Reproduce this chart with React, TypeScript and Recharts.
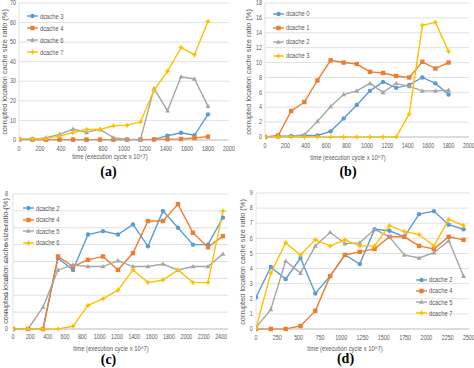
import React from 'react';
import { LineChart, Line, XAxis, YAxis, CartesianGrid } from 'recharts';

// x positions (execution cycle x 10^7)
const timeAB = [0, 129, 257, 386, 514, 643, 771, 900, 1029, 1157, 1286, 1414, 1543, 1671, 1800];
const timeC = [0, 173, 346, 519, 692, 865, 1038, 1211, 1384, 1557, 1730, 1903, 2076, 2249, 2422];
const timeD = [0, 174, 348, 522, 696, 870, 1044, 1218, 1392, 1566, 1740, 1914, 2088, 2262, 2436];

// (a)
const a_dcache3 = [0.2, 0.2, 0.2, 0.2, 0.2, 0.2, 0.2, 0.2, 0.2, 0.2, 0.3, 2.2, 3.7, 2.4, 13.1];
const a_dcache4 = [0.3, 0.3, 0.2, 0.2, 0.2, 0.2, 0.2, 0.2, 0.2, 0.2, 0.3, 0.4, 0.5, 1.0, 1.7];
const a_dcache6 = [0.3, 0.3, 1.2, 2.9, 5.6, 3.9, 5.4, 1.2, 0.3, 0.3, 26.3, 15, 32.3, 31.2, 17.3];
const a_dcache7 = [0.7, 0.7, 0.7, 2.0, 3.7, 5.4, 5.4, 7.3, 7.6, 9.2, 25.5, 35.1, 47.2, 43.6, 60.6];

// (b)
const b_dcache0 = [0, 0.1, 0.13, 0.2, 0.2, 0.76, 2.5, 4.3, 6.2, 7.4, 6.6, 7.0, 8.0, 7.2, 5.7];
const b_dcache1 = [0, 0.2, 3.5, 4.7, 7.6, 10.3, 10.0, 9.8, 8.75, 8.6, 8.2, 8.0, 10.1, 9.2, 10.0];
const b_dcache2 = [0, 0.05, 0.1, 0.3, 2.1, 4.1, 5.7, 6.2, 7.2, 6.0, 7.2, 6.8, 6.2, 6.2, 6.3];
const b_dcache3 = [0, 0, 0, 0, 0, 0, 0, 0, 0, 0, 0, 3.1, 15.0, 15.4, 11.5];

// (c)
const c_dcache2 = [0, 0, 0, 4.2, 3.5, 5.6, 5.8, 5.6, 6.2, 4.9, 7.0, 6.0, 5.0, 5.0, 6.6];
const c_dcache4 = [0, 0, 0, 4.3, 3.7, 4.1, 4.3, 3.5, 4.5, 6.4, 6.4, 7.4, 5.7, 4.85, 5.5];
const c_dcache5 = [0, 0, 1.3, 3.5, 3.8, 3.7, 3.7, 4.05, 3.7, 3.7, 3.85, 3.5, 3.7, 3.7, 4.45];
const c_dcache6 = [0, 0, 0, 0, 0.16, 1.4, 1.8, 2.3, 3.5, 2.75, 2.9, 3.5, 2.75, 2.75, 7.0];

// (d)
const d_dcache2 = [2.1, 4.1, 3.3, 4.7, 2.35, 3.5, 4.9, 4.3, 6.6, 6.5, 6.1, 7.6, 7.8, 6.9, 6.6];
const d_dcache4 = [0, 0, 0, 0.2, 1.2, 3.5, 4.9, 5.1, 5.3, 6.1, 6.1, 5.5, 5.3, 6.1, 5.9];
const d_dcache5 = [0.1, 1.3, 4.5, 3.7, 5.5, 6.4, 5.65, 5.7, 6.6, 6.1, 4.9, 4.7, 5.05, 5.85, 3.5];
const d_dcache7 = [0.05, 3.7, 5.7, 4.9, 5.9, 5.5, 5.9, 5.5, 5.5, 6.85, 6.45, 6.25, 5.5, 7.25, 6.85];

const ticksX2000 = [0, 200, 400, 600, 800, 1000, 1200, 1400, 1600, 1800, 2000];
const ticksX2400 = [0, 200, 400, 600, 800, 1000, 1200, 1400, 1600, 1800, 2000, 2200, 2400];
const ticksX2500 = [0, 250, 500, 750, 1000, 1250, 1500, 1750, 2000, 2250, 2500];
const ticksYA = [0, 10, 20, 30, 40, 50, 60, 70];
const ticksYB = [0, 2, 4, 6, 8, 10, 12, 14, 16, 18];
const ticksYC = [0, 1, 2, 3, 4, 5, 6, 7, 8];
const ticksYD = [0, 1, 2, 3, 4, 5, 6, 7, 8, 9];

const BLUE = '#5B9BD5';
const ORANGE = '#ED7D31';
const GRAY = '#A5A5A5';
const YELLOW = '#FFC000';
const FONT = '"Liberation Sans", Arial, sans-serif';
const SQUISH = 0.85;

type Shape = 'circle' | 'square' | 'triangle' | 'star';

const Marker = ({ shape, color, cx, cy }: { shape: Shape; color: string; cx: number; cy: number }) => {
  if (shape === 'circle') return <circle cx={cx} cy={cy} r={2.2} fill={color} />;
  if (shape === 'square') return <rect x={cx - 2.2} y={cy - 2.2} width={4.4} height={4.4} fill={color} />;
  if (shape === 'triangle')
    return <path d={`M${cx},${cy - 2.6}L${cx + 2.4},${cy + 1.8}L${cx - 2.4},${cy + 1.8}Z`} fill={color} />;
  return (
    <path
      d={`M${cx},${cy - 3}L${cx + 1},${cy - 1}L${cx + 3},${cy}L${cx + 1},${cy + 1}L${cx},${cy + 3}L${cx - 1},${cy + 1}L${cx - 3},${cy}L${cx - 1},${cy - 1}Z`}
      fill={color}
    />
  );
};

interface Series {
  key: string;
  name: string;
  values: number[];
  color: string;
  shape: Shape;
}

interface PanelProps {
  left: number;
  top: number;
  letter: string;
  times: number[];
  series: Series[];
  xDomain: [number, number];
  xTicks: number[];
  yDomain: [number, number];
  yTicks: number[];
  margin: { top: number; right: number };
  yWidth: number;
  xHeight: number;
  xTickGap: number;
  yTickGap: number;
  legend: { x: number; y: number; gap: number };
  yLabel: { x: number; y: number };
  xTitleY: number;
  xTitleX: number;
  letterX: number;
  letterY: number;
}

const XTick = (props: any) => {
  const { x, y, payload } = props;
  return (
    <text transform={`translate(${x} ${y}) scale(${SQUISH} 1)`} textAnchor="middle" dy="0.35em" fontSize={6.3} fill="#595959" fontFamily={FONT}>
      {payload.value}
    </text>
  );
};

const YTick = (props: any) => {
  const { x, y, payload } = props;
  return (
    <text transform={`translate(${x} ${y}) scale(${SQUISH} 1)`} textAnchor="end" dy="0.35em" fontSize={6.3} fill="#595959" fontFamily={FONT}>
      {payload.value}
    </text>
  );
};

const Panel: React.FC<PanelProps> = (p) => {
  const rows = p.times.map((t, i) => {
    const row: Record<string, number> = { t };
    p.series.forEach((s) => (row[s.key] = s.values[i]));
    return row;
  });
  return (
    <div style={{ position: 'absolute', left: p.left, top: p.top, width: 237, height: 184 }}>
      <LineChart width={237} height={184} data={rows} margin={{ top: p.margin.top, right: p.margin.right, bottom: 0, left: 0 }}>
        <CartesianGrid vertical={false} stroke="#d9d9d9" strokeWidth={0.8} />
        <XAxis
          dataKey="t"
          type="number"
          domain={p.xDomain}
          ticks={p.xTicks}
          interval={0}
          height={p.xHeight}
          tickSize={0}
          tickLine={false}
          tickMargin={p.xTickGap}
          axisLine={{ stroke: '#bfbfbf', strokeWidth: 0.8 }}
          tick={<XTick />}
          allowDataOverflow
        />
        <YAxis
          type="number"
          domain={p.yDomain}
          ticks={p.yTicks}
          interval={0}
          width={p.yWidth}
          tickSize={0}
          tickLine={false}
          tickMargin={p.yTickGap}
          axisLine={{ stroke: '#d9d9d9', strokeWidth: 0.8 }}
          tick={<YTick />}
        />
        {p.series.map((s) => (
          <Line
            key={s.key}
            dataKey={s.key}
            name={s.name}
            stroke={s.color}
            strokeWidth={1.4}
            isAnimationActive={false}
            activeDot={false}
            dot={(d: any) => <Marker key={`${s.key}-${d.index}`} shape={s.shape} color={s.color} cx={d.cx} cy={d.cy} />}
          />
        ))}
      </LineChart>
      {p.series.map((s, i) => (
        <div
          key={s.key}
          style={{
            position: 'absolute',
            left: p.legend.x,
            top: p.legend.y + i * p.legend.gap - 4,
            height: 8,
            display: 'flex',
            alignItems: 'center',
            whiteSpace: 'nowrap',
          }}
        >
          <svg width={11} height={8} style={{ display: 'block' }}>
            <line x1={0} y1={4} x2={11} y2={4} stroke={s.color} strokeWidth={1.4} />
            <Marker shape={s.shape} color={s.color} cx={5.5} cy={4} />
          </svg>
          <span
            style={{
              fontFamily: FONT,
              fontSize: 6.8,
              color: '#595959',
              marginLeft: 1.5,
              display: 'inline-block',
              transform: `scaleX(${SQUISH})`,
              transformOrigin: 'left center',
            }}
          >
            {s.name}
          </span>
        </div>
      ))}
      <div
        style={{
          position: 'absolute',
          left: p.yLabel.x,
          top: p.yLabel.y,
          transform: `translate(-50%, -50%) rotate(-90deg) scaleY(${SQUISH})`,
          whiteSpace: 'nowrap',
          fontFamily: FONT,
          fontSize: 7.4,
          color: '#595959',
        }}
      >
        corrupted location cache size ratio (%)
      </div>
      <div
        style={{
          position: 'absolute',
          left: p.xTitleX,
          top: p.xTitleY,
          transform: `translate(-50%, -50%) scaleX(${SQUISH})`,
          whiteSpace: 'nowrap',
          fontFamily: FONT,
          fontSize: 6.9,
          color: '#595959',
        }}
      >
        time (execution cycle x 10^7)
      </div>
      <div
        style={{
          position: 'absolute',
          left: p.letterX,
          top: p.letterY,
          transform: 'translate(-50%, -50%)',
          whiteSpace: 'nowrap',
          fontFamily: '"Liberation Serif", "Times New Roman", serif',
          fontWeight: 'bold',
          fontSize: 14,
          color: '#000',
        }}
      >
        {p.letter}
      </div>
    </div>
  );
};

const App: React.FC = () => {
  return (
    <div style={{ position: 'absolute', left: 0, top: 0, width: 474, height: 368, background: '#fff', overflow: 'hidden' }}>
      <Panel
        left={0}
        top={0}
        letter="(a)"
        times={timeAB}
        series={[
          { key: 'd3', name: 'dcache 3', values: a_dcache3, color: BLUE, shape: 'circle' },
          { key: 'd4', name: 'dcache 4', values: a_dcache4, color: ORANGE, shape: 'square' },
          { key: 'd6', name: 'dcache 6', values: a_dcache6, color: GRAY, shape: 'triangle' },
          { key: 'd7', name: 'dcache 7', values: a_dcache7, color: YELLOW, shape: 'star' },
        ]}
        xDomain={[0, 2000]}
        xTicks={ticksX2000}
        yDomain={[0, 70]}
        yTicks={ticksYA}
        margin={{ top: 3, right: 8 }}
        yWidth={19}
        xHeight={44}
        xTickGap={9}
        yTickGap={3}
        legend={{ x: 27, y: 16, gap: 12 }}
        yLabel={{ x: 4.5, y: 72 }}
        xTitleX={110}
        xTitleY={156}
        letterX={108.5}
        letterY={171.5}
      />
      <Panel
        left={237}
        top={0}
        letter="(b)"
        times={timeAB}
        series={[
          { key: 'd0', name: 'dcache 0', values: b_dcache0, color: BLUE, shape: 'circle' },
          { key: 'd1', name: 'dcache 1', values: b_dcache1, color: ORANGE, shape: 'square' },
          { key: 'd2', name: 'dcache 2', values: b_dcache2, color: GRAY, shape: 'triangle' },
          { key: 'd3', name: 'dcache 3', values: b_dcache3, color: YELLOW, shape: 'star' },
        ]}
        xDomain={[0, 2000]}
        xTicks={ticksX2000}
        yDomain={[0, 18]}
        yTicks={ticksYB}
        margin={{ top: 3, right: 5 }}
        yWidth={28}
        xHeight={47}
        xTickGap={9}
        yTickGap={3}
        legend={{ x: 36, y: 13.5, gap: 14 }}
        yLabel={{ x: 11.5, y: 72 }}
        xTitleX={110.5}
        xTitleY={157}
        letterX={111}
        letterY={171.5}
      />
      <Panel
        left={0}
        top={184}
        letter="(c)"
        times={timeC}
        series={[
          { key: 'd2', name: 'dcache 2', values: c_dcache2, color: BLUE, shape: 'circle' },
          { key: 'd4', name: 'dcache 4', values: c_dcache4, color: ORANGE, shape: 'square' },
          { key: 'd5', name: 'dcache 5', values: c_dcache5, color: GRAY, shape: 'triangle' },
          { key: 'd6', name: 'dcache 6', values: c_dcache6, color: YELLOW, shape: 'star' },
        ]}
        xDomain={[0, 2480]}
        xTicks={ticksX2400}
        yDomain={[0, 8]}
        yTicks={ticksYC}
        margin={{ top: 10, right: 9 }}
        yWidth={13}
        xHeight={39}
        xTickGap={8}
        yTickGap={5}
        legend={{ x: 23, y: 24, gap: 11.5 }}
        yLabel={{ x: 6, y: 77 }}
        xTitleX={110.5}
        xTitleY={164}
        letterX={108.5}
        letterY={175.5}
      />
      <Panel
        left={237}
        top={184}
        letter="(d)"
        times={timeD}
        series={[
          { key: 'd2', name: 'dcache 2', values: d_dcache2, color: BLUE, shape: 'circle' },
          { key: 'd4', name: 'dcache 4', values: d_dcache4, color: ORANGE, shape: 'square' },
          { key: 'd5', name: 'dcache 5', values: d_dcache5, color: GRAY, shape: 'triangle' },
          { key: 'd7', name: 'dcache 7', values: d_dcache7, color: YELLOW, shape: 'star' },
        ]}
        xDomain={[0, 2500]}
        xTicks={ticksX2500}
        yDomain={[0, 9]}
        yTicks={ticksYD}
        margin={{ top: 9, right: 5 }}
        yWidth={19}
        xHeight={39}
        xTickGap={8.5}
        yTickGap={3.3}
        legend={{ x: 179, y: 95.5, gap: 11.3 }}
        yLabel={{ x: 6, y: 77.5 }}
        xTitleX={107.5}
        xTitleY={163.5}
        letterX={108.5}
        letterY={175}
      />
    </div>
  );
};

export default App;
